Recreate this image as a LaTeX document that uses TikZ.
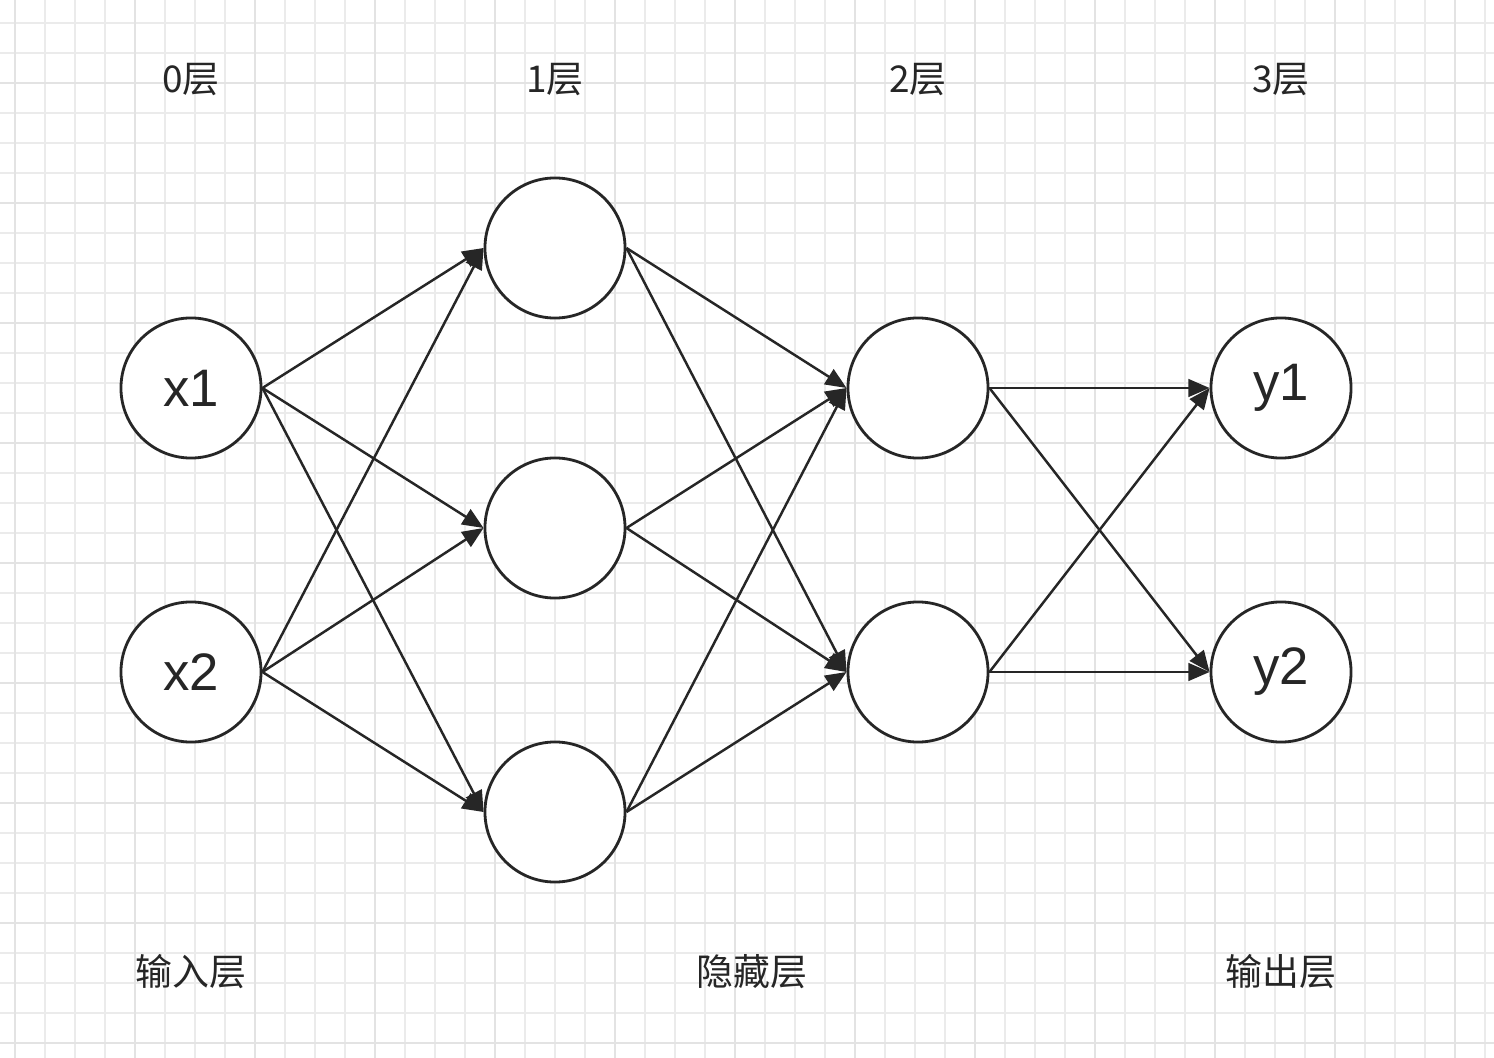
\documentclass[tikz,border=0pt]{standalone}
\usepackage{fontspec}
\setmainfont{Liberation Sans}
\newfontfamily\cjk{Noto Sans CJK SC}
\usetikzlibrary{arrows.meta}
\begin{document}
\begin{tikzpicture}[x=0.01cm,y=-0.01cm,
  neuron/.style={circle,draw=black!85,line width=0.8pt,minimum size=1.4cm,inner sep=0pt,fill=white,font=\fontsize{15}{18}\selectfont,text=black!85},
  lbl/.style={font=\cjk\fontsize{10.5}{12}\selectfont,text=black!85},
  conn/.style={draw=black!85,line width=0.7pt,-{Triangle[length=6pt,width=5pt]}}]
\fill[white] (0,0) rectangle (1494,1058);
\useasboundingbox (0,0) rectangle (1494,1058);
\foreach \i in {0,...,49} \draw[black!8,line width=0.4pt] (15+30*\i,0) -- (15+30*\i,1058);
\foreach \j in {0,...,35} \draw[black!8,line width=0.4pt] (0,23+30*\j) -- (1494,23+30*\j);
\foreach \i in {0,...,12} \draw[black!11,line width=0.7pt] (15+120*\i,0) -- (15+120*\i,1058);
\foreach \j in {0,...,9} \draw[black!11,line width=0.7pt] (0,83+120*\j) -- (1494,83+120*\j);
\node[neuron] (x1) at (191,388) {x1};
\node[neuron] (x2) at (191,672) {x2};
\node[neuron] (h1) at (555,248) {};
\node[neuron] (h2) at (555,528) {};
\node[neuron] (h3) at (555,812) {};
\node[neuron] (g1) at (918,388) {};
\node[neuron] (g2) at (918,672) {};
\node[neuron] (y1) at (1281,388) {y1};
\node[neuron] (y2) at (1281,672) {y2};
\node[lbl] (l0) at (191,80) {0层};
\node[lbl] (l1) at (555,80) {1层};
\node[lbl] (l2) at (918,80) {2层};
\node[lbl] (l3) at (1281,80) {3层};
\node[lbl] (ti) at (191,972) {输入层};
\node[lbl] (th) at (752,972) {隐藏层};
\node[lbl] (to) at (1281,972) {输出层};
\foreach \a in {x1,x2} \foreach \b in {h1,h2,h3} \draw[conn] (\a.east) -- (\b.west);
\foreach \a in {h1,h2,h3} \foreach \b in {g1,g2} \draw[conn] (\a.east) -- (\b.west);
\foreach \a in {g1,g2} \foreach \b in {y1,y2} \draw[conn] (\a.east) -- (\b.west);
\end{tikzpicture}
\end{document}
